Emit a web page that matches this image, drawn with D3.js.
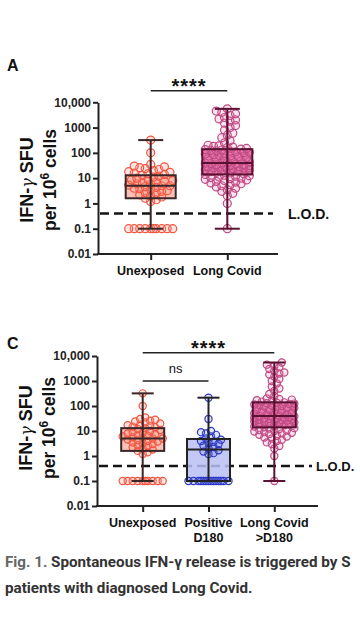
<!DOCTYPE html>
<html><head><meta charset="utf-8">
<script src="https://cdn.jsdelivr.net/npm/d3@7"></script>
<style>body{margin:0;background:#fff}svg{display:block}</style>
</head><body><svg id="c" width="360" height="640"></svg>
<script>
const yTickValues=[0.01,0.1,1,10,100,1000,10000];
const yTickLabels=["0.01","0.1","1","10","100","1000","10,000"];
const categoriesA=["Unexposed","Long Covid"];
const categoryLinesA=[["Unexposed"],["Long Covid"]];
const categoriesC=["Unexposed","Positive D180","Long Covid >D180"];
const categoryLinesC=[["Unexposed"],["Positive","D180"],["Long Covid",">D180"]];

const unexposedValues=[0.1,0.1,0.1,0.1,0.1,0.1,0.1,0.1,0.1,0.1,
 1.2,1.4,1.6,1.8,2,2.2,2.5,2.7,3,3.2,3.5,3.8,4,4.3,4.6,5,5,5.3,5.6,6,6.5,7,7.5,8,8.5,9,10,11,12,13,14,15,16,17,18,20,22,24,26,28,30,35,100,320];
const positiveValues=[0.1,0.1,0.1,0.1,0.1,0.1,0.1,0.1,0.1,0.1,0.1,0.1,0.1,0.1,
 1.2,1.3,1.5,1.7,2,2.3,2.6,3,3.3,3.7,4,4.5,5,6,7,8,9,10,30,215];
const longCovidValues=[0.1,1,2,2.5,3,3.5,4,4.5,5,5.5,6,6.5,7,7.5,8,8.5,9,9.5,10,10.5,11,12,12.5,13,
 14,15,16,17,18,19,20,21,22,23,24,25,26,27,28,29,30,31,32,34,35,36,38,39,
 40,42,45,48,50,55,58,60,65,70,75,80,85,90,95,100,105,110,115,120,125,130,135,140,
 150,160,170,180,190,200,250,300,400,500,600,800,1000,1200,1500,1800,2000,2200,2500,3000,3500,4000,4500,5500];
// box stats: [min, q1, median, q3, max]
const unexposedStats=[0.1,1.6,5,13,320];
const positiveStats=[0.1,0.1,1.8,4.8,215];
const longCovidStats=[0.1,14,40,140,5500];
const lodValue=0.4;
const sigA=[["Unexposed","Long Covid","****"]];
const sigC=[["Unexposed","Long Covid >D180","****"],["Unexposed","Positive D180","ns"]];

const styles={
 unexposed:{pt:"#f2553f",ptFill:"rgba(250,150,140,0.25)",box:"#f8b6ac",line:"#3a2626"},
 positive:{pt:"#2b38c4",ptFill:"rgba(120,130,230,0.2)",box:"#b9bef2",line:"#222"},
 longcovid:{pt:"#bd4a84",ptFill:"rgba(240,120,170,0.2)",box:"#e8639e",line:"#5a1232"}
};

const svg=d3.select("#c");
const FONT="'Liberation Sans', Arial, sans-serif";

function swarm(vals,y,minD,step,maxW){
 const pts=vals.map(v=>({v,y:y(v)})).sort((a,b)=>a.v-b.v);
 const placed=[];
 const cands=[0];
 for(let k=1;k*step<=maxW;k++){cands.push(k*step,-k*step);}
 pts.forEach(p=>{
  let best=null,bestD=-1;
  for(const cx of cands){
   let md=Infinity;
   for(const q of placed){const d=Math.hypot(q.dx-cx,q.y-p.y);if(d<md)md=d;}
   if(md>=minD){best=cx;bestD=md;break;}
   if(md>bestD){bestD=md;best=cx;}
  }
  p.dx=best;placed.push(p);
 });
 return placed;
}

function drawPanel(P){
 const g=svg.append("g");
 const y=d3.scaleLog().domain([0.01,10000]).range([P.yBottom,P.yTop]);
 const x=d3.scalePoint().domain(P.categories).range([P.x0,P.x1]);
 g.append("text").attr("x",P.letterX).attr("y",P.letterY).text(P.letter)
  .attr("font-family",FONT).attr("font-weight","bold").attr("font-size",16).attr("fill","#111");
 const ya=g.append("g").attr("transform",`translate(${P.axisX},0)`)
  .call(d3.axisLeft(y).tickValues(yTickValues).tickFormat((d,i)=>yTickLabels[i]).tickSize(5).tickSizeOuter(0));
 ya.select(".domain").attr("stroke","#222").attr("stroke-width",2);
 ya.selectAll(".tick line").attr("stroke","#222").attr("stroke-width",2);
 ya.selectAll(".tick text").attr("font-family",FONT).attr("font-weight","bold").attr("font-size",12).attr("fill","#222").attr("x",-7);
 g.append("line").attr("x1",P.axisX-1).attr("x2",P.axisRight).attr("y1",y(0.01)).attr("y2",y(0.01)).attr("stroke","#222").attr("stroke-width",2);
 const xa=g.append("g").attr("transform",`translate(0,${y(0.01)})`).call(d3.axisBottom(x).tickSize(6).tickFormat(""));
 xa.select(".domain").remove();
 xa.selectAll(".tick line").attr("stroke","#222").attr("stroke-width",2);
 P.categories.forEach((c,i)=>{
  P.lines[i].forEach((ln,j)=>{
   g.append("text").attr("x",x(c)).attr("y",P.labelY+j*P.labelLH).attr("text-anchor","middle").text(ln)
    .attr("font-family",FONT).attr("font-weight","bold").attr("font-size",P.labelFS).attr("fill","#111");
  });
 });
 const tg=g.append("g").attr("transform",`translate(${P.titleX},${P.titleY}) rotate(-90)`);
 const t1=tg.append("text").attr("text-anchor","middle").attr("y",0).attr("font-family",FONT).attr("font-weight","bold").attr("font-size",18).attr("fill","#111");
 t1.append("tspan").text("IFN-");
 t1.append("tspan").text("γ").attr("font-weight","normal").attr("font-style","italic").attr("font-family","'DejaVu Serif', serif").attr("font-size",16);
 t1.append("tspan").text(" SFU");
 const t2=tg.append("text").attr("text-anchor","middle").attr("y",P.titleGap).attr("font-family",FONT).attr("font-weight","bold").attr("font-size",17.5).attr("fill","#111");
 t2.append("tspan").text("per 10");
 t2.append("tspan").text("6").attr("font-size",12).attr("dy",-7);
 t2.append("tspan").text(" cells").attr("dy",7);
 g.append("line").attr("x1",P.axisX+2).attr("x2",P.lodX2).attr("y1",y(lodValue)).attr("y2",y(lodValue))
  .attr("stroke","#151515").attr("stroke-width",2.6).attr("stroke-dasharray","9,5");
 g.append("text").attr("x",P.lodTextX).attr("y",y(lodValue)).attr("dy","0.36em").text("L.O.D.")
  .attr("font-family",FONT).attr("font-weight","bold").attr("font-size",P.lodFS).attr("fill","#111");
 P.groups.forEach(gr=>{
  const cx=x(gr.cat), s=gr.stats, st=styles[gr.style];
  g.append("rect").attr("x",cx-P.boxW/2).attr("y",y(s[3])).attr("width",P.boxW).attr("height",y(s[1])-y(s[3]))
   .attr("fill",st.box).attr("fill-opacity",0.85);
  const pts=swarm(gr.values,y,P.minD,P.step,P.maxW);
  g.selectAll(null).data(pts).enter().append("circle")
   .attr("cx",d=>cx+d.dx).attr("cy",d=>d.y).attr("r",P.r)
   .attr("fill",st.ptFill).attr("stroke",st.pt).attr("stroke-width",1.2);
  g.append("line").attr("x1",cx).attr("x2",cx).attr("y1",y(s[0])).attr("y2",y(s[4])).attr("stroke",st.line).attr("stroke-width",2);
  [s[0],s[4]].forEach(v=>g.append("line").attr("x1",cx-P.capW/2).attr("x2",cx+P.capW/2).attr("y1",y(v)).attr("y2",y(v)).attr("stroke",st.line).attr("stroke-width",2));
  g.append("rect").attr("x",cx-P.boxW/2).attr("y",y(s[3])).attr("width",P.boxW).attr("height",y(s[1])-y(s[3]))
   .attr("fill","none").attr("stroke",st.line).attr("stroke-width",2);
  g.append("line").attr("x1",cx-P.boxW/2).attr("x2",cx+P.boxW/2).attr("y1",y(s[2])).attr("y2",y(s[2])).attr("stroke",st.line).attr("stroke-width",2);
 });
 P.sig.forEach((sg,i)=>{
  const yy=P.sigY[i], xa1=x(sg[0]), xa2=x(sg[1]);
  g.append("line").attr("x1",xa1).attr("x2",xa2).attr("y1",yy).attr("y2",yy).attr("stroke","#222").attr("stroke-width",1.5);
  const isStar=sg[2].startsWith("*");
  g.append("text").attr("x",(xa1+xa2)/2).attr("y",isStar?yy+2:yy-8).attr("text-anchor","middle").text(sg[2])
   .attr("font-family",FONT).attr("font-weight",isStar?"bold":"normal").attr("font-size",isStar?20:13)
   .attr("letter-spacing",isStar?1:0).attr("fill","#111");
 });
}

drawPanel({letter:"A",letterX:7,letterY:71,yTop:102.3,yBottom:254,axisX:98,axisRight:278,x0:150.7,x1:227.3,
 categories:categoriesA,lines:categoryLinesA,labelY:275,labelLH:15,labelFS:12.5,
 titleX:33,titleY:180,titleGap:23,lodX2:273,lodTextX:288,lodFS:14,
 boxW:50,capW:25,r:4,minD:5.5,step:2.75,maxW:24,
 groups:[{cat:"Unexposed",values:unexposedValues,stats:unexposedStats,style:"unexposed"},
         {cat:"Long Covid",values:longCovidValues,stats:longCovidStats,style:"longcovid"}],
 sig:sigA,sigY:[90.7]});

drawPanel({letter:"C",letterX:7,letterY:349,yTop:356,yBottom:506,axisX:97,axisRight:318,x0:142.7,x1:274.3,
 categories:categoriesC,lines:categoryLinesC,labelY:527,labelLH:15,labelFS:12.5,
 titleX:32,titleY:428,titleGap:23,lodX2:312,lodTextX:316,lodFS:13,
 boxW:43,capW:22,r:3.6,minD:5,step:2.5,maxW:20,
 groups:[{cat:"Unexposed",values:unexposedValues,stats:unexposedStats,style:"unexposed"},
         {cat:"Positive D180",values:positiveValues,stats:positiveStats,style:"positive"},
         {cat:"Long Covid >D180",values:longCovidValues,stats:longCovidStats,style:"longcovid"}],
 sig:sigC,sigY:[352.7,381]});

const cap1=svg.append("text").attr("x",5).attr("y",567).attr("font-family","Roboto, sans-serif").attr("font-weight","bold").attr("font-size",15.2).attr("fill","#333");
cap1.append("tspan").text("Fig. 1. ").attr("fill","#666");
cap1.append("tspan").text("Spontaneous IFN-γ release is triggered by S");
svg.append("text").attr("x",5).attr("y",593).attr("font-family","Roboto, sans-serif").attr("font-weight","bold").attr("font-size",15.2).attr("fill","#333")
 .text("patients with diagnosed Long Covid.");
</script></body></html>
